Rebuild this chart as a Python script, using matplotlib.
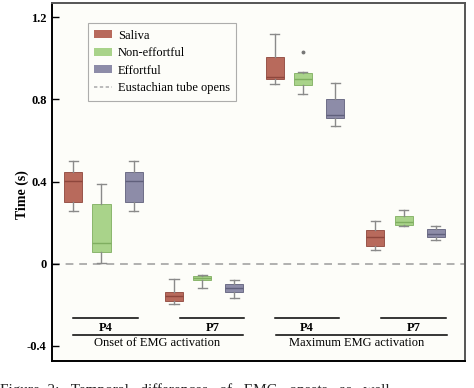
import numpy as np
import matplotlib

matplotlib.use("Agg")
import matplotlib.pyplot as plt
from matplotlib.patches import Patch
from matplotlib.lines import Line2D

plt.rcParams["font.family"] = ["Liberation Serif", "DejaVu Serif"]

# order: Onset P4, Onset P7, Maximum P4, Maximum P7
conditions = ["Saliva", "Non-effortful", "Effortful"]
groups = ["Onset P4", "Onset P7", "Max P4", "Max P7"]

saliva_whislo = [0.255, -0.198, 0.874, 0.068]
saliva_q1 = [0.300, -0.180, 0.899, 0.087]
saliva_med = [0.405, -0.155, 0.908, 0.130]
saliva_q3 = [0.445, -0.135, 1.005, 0.164]
saliva_whishi = [0.500, -0.072, 1.116, 0.208]

noneff_whislo = [0.005, -0.116, 0.826, 0.186]
noneff_q1 = [0.058, -0.077, 0.870, 0.188]
noneff_med = [0.100, -0.068, 0.899, 0.203]
noneff_q3 = [0.290, -0.058, 0.928, 0.232]
noneff_whishi = [0.390, -0.053, 0.932, 0.260]

eff_whislo = [0.255, -0.164, 0.670, 0.116]
eff_q1 = [0.300, -0.135, 0.710, 0.130]
eff_med = [0.405, -0.120, 0.725, 0.145]
eff_q3 = [0.445, -0.100, 0.800, 0.170]
eff_whishi = [0.500, -0.077, 0.879, 0.184]

outliers = {("Non-effortful", 2): [1.03]}

fills = ["#b86a5c", "#a9d38a", "#8d8ca8"]
darks = ["#8e463c", "#7fae60", "#60607c"]

stats_by_cond = [
    (saliva_whislo, saliva_q1, saliva_med, saliva_q3, saliva_whishi),
    (noneff_whislo, noneff_q1, noneff_med, noneff_q3, noneff_whishi),
    (eff_whislo, eff_q1, eff_med, eff_q3, eff_whishi),
]

fig = plt.figure(figsize=(4.74, 3.88), dpi=100)
ax = fig.add_axes([0.110, 0.0696, 0.871, 0.922])
ax.set_facecolor("#fdfdf9")

offsets = [-0.31, -0.03, 0.29]
for ci, (cond, st) in enumerate(zip(conditions, stats_by_cond)):
    lo, q1, med, q3, hi = st
    bstats = []
    for gi in range(len(groups)):
        bstats.append(dict(whislo=lo[gi], q1=q1[gi], med=med[gi], q3=q3[gi],
                           whishi=hi[gi], fliers=outliers.get((cond, gi), [])))
    pos = [gi + offsets[ci] for gi in range(len(groups))]
    ax.bxp(bstats, positions=pos, widths=0.18, patch_artist=True, showfliers=True,
           boxprops=dict(facecolor=fills[ci], edgecolor=darks[ci], linewidth=0.6),
           medianprops=dict(color=darks[ci], linewidth=1.0),
           whiskerprops=dict(color="#8a8a8a", linewidth=1.0),
           capprops=dict(color="#8a8a8a", linewidth=1.0),
           flierprops=dict(marker="o", markersize=1.8, markerfacecolor="#777777",
                           markeredgecolor="#777777"))

ax.axhline(0, color="#b0b0b0", linestyle=(0, (4, 3)), linewidth=1.4, zorder=0)

# group brackets
def bracket(x0, x1, y):
    ax.plot([x0, x1], [y, y], color="black", linewidth=1.1, clip_on=False)

for gi, name in enumerate(["P4", "P7", "P4", "P7"]):
    shift = 0.0 if gi % 2 == 0 else 0.06
    bracket(gi - 0.31 + shift, gi + 0.33 + shift, -0.262)
    ax.text(gi + 0.01 + shift, -0.282, name, ha="center", va="top",
            fontsize=9, fontweight="bold")
bracket(-0.31, 1.38, -0.345)
bracket(1.70, 3.40, -0.345)
ax.text(0.52, -0.356, "Onset of EMG activation", ha="center", va="top", fontsize=9)
ax.text(2.50, -0.356, "Maximum EMG activation", ha="center", va="top", fontsize=9)

ax.set_xlim(-0.52, 3.58)
ax.set_ylim(-0.473, 1.268)
ax.set_xticks([])
ax.set_yticks([1.2, 0.8, 0.4, 0, -0.4])
ax.set_yticklabels(["1.2", "0.8", "0.4", "0", "-0.4"], fontweight="bold", fontsize=9)
ax.tick_params(axis="y", direction="in", length=5, width=1.0, pad=4)
ax.set_ylabel("Time (s)", fontweight="bold", fontsize=10)
ax.yaxis.set_label_coords(-0.056, 0.466)

for side in ["left", "bottom"]:
    ax.spines[side].set_color("black")
    ax.spines[side].set_linewidth(1.4)
for side in ["top", "right"]:
    ax.spines[side].set_color("#555555")
    ax.spines[side].set_linewidth(1.4)

handles = [Patch(facecolor=fills[i], edgecolor="none") for i in range(3)]
handles.append(Line2D([0], [0], color="#b0b0b0", linestyle=(0, (2, 1.5)), linewidth=1.2))
leg = ax.legend(handles, conditions + ["Eustachian tube opens"], loc="upper left",
                bbox_to_anchor=(0.087, 0.944), borderaxespad=0, fancybox=False,
                fontsize=9, handlelength=1.4, handleheight=0.6, handletextpad=0.5,
                labelspacing=0.45, borderpad=0.5)
leg.get_frame().set_edgecolor("#999999")
leg.get_frame().set_linewidth(0.8)
leg.get_frame().set_facecolor("#fdfdf9")

fig.text(0.0, -0.005, "Figure  2:   Temporal   differences   of   EMG   onsets   as   well",
         ha="left", va="center", fontsize=11, color="#222222")

fig.savefig("out.png", dpi=100)
